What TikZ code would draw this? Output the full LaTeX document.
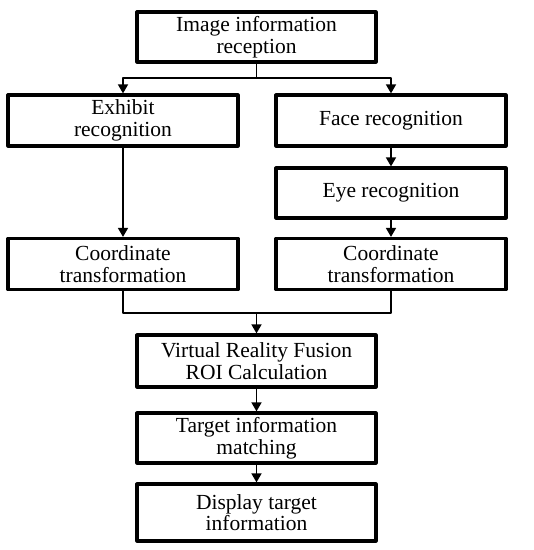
\documentclass[tikz,border=0pt]{standalone}
\usepackage{fontspec}
\setmainfont{Liberation Serif}
\usetikzlibrary{arrows.meta}
\tikzset{
  box/.style={draw,line width=3.2pt,align=center,inner sep=0pt,minimum width=230pt,minimum height=51pt},
  widebox/.style={box,minimum width=239pt},
  link/.style={line width=1.5pt}
}
\begin{document}
\begin{tikzpicture}[x=1pt,y=-1pt,line join=round,font=\fontsize{21.5}{21.5}\selectfont,>={Triangle[length=9pt,width=10pt]}]
            \useasboundingbox (0,0) rectangle (534,550);
            \node[widebox,minimum height=50pt] (img) at (256.5,37) {Image information\\reception};
            \node[box] (exh) at (123,120.5) {Exhibit\\recognition};
            \node[box] (face) at (391,120.5) {Face recognition};
            \node[box,minimum height=50pt] (eye) at (391,193) {Eye recognition};
            \node[box] (cl) at (123,264) {Coordinate\\transformation};
            \node[box] (cr) at (391,264) {Coordinate\\transformation};
            \node[widebox,minimum height=52pt] (vr) at (256.5,361) {Virtual Reality Fusion\\ROI Calculation};
            \node[widebox,minimum height=50pt] (tim) at (256.5,438) {Target information\\matching};
            \node[widebox,minimum height=57pt] (dti) at (256.5,512.5) {Display target\\information};
            \coordinate (split) at (256.5,78);
            \coordinate (merge) at (256.5,313);
            \draw[link] (img) -- (split);
            \draw[link,->] (split) -| (exh);
            \draw[link,->] (split) -| (face);
            \draw[link,->] (face) -- (eye);
            \draw[link,->] (eye) -- (cr);
            \draw[link,->] (exh) -- (cl);
            \draw[link] (cl) |- (merge) -| (cr);
            \draw[link,->] (merge) -- (vr);
            \draw[link,->] (vr) -- (tim);
            \draw[link,->] (tim) -- (dti);
        \end{tikzpicture}
\end{document}
